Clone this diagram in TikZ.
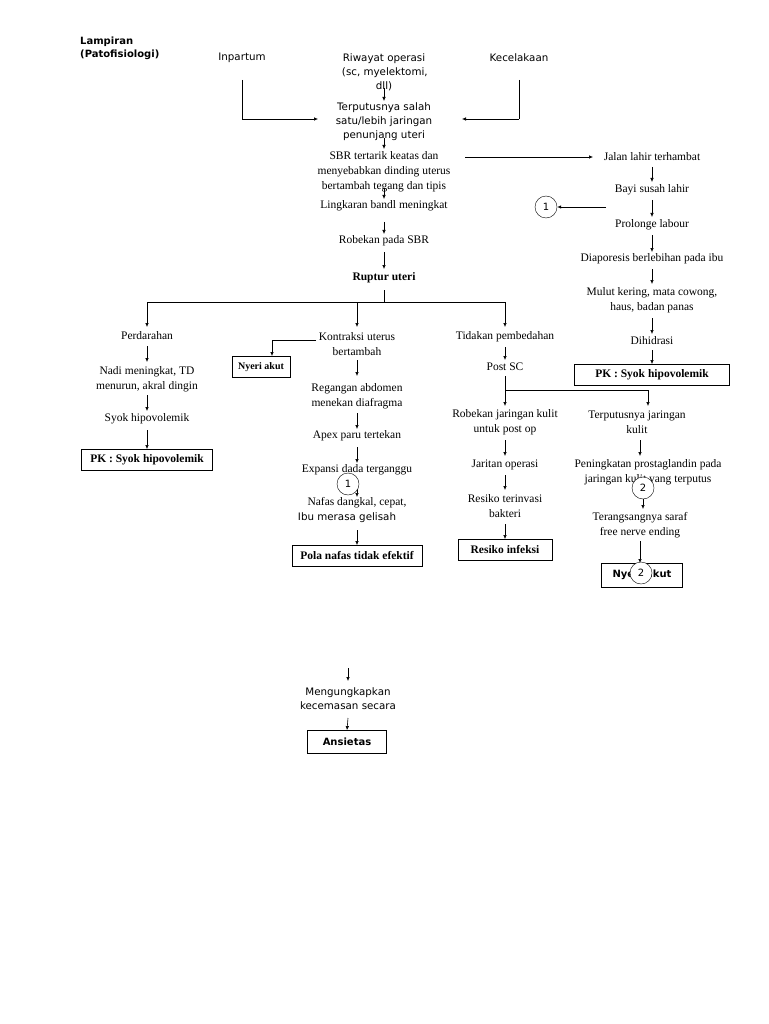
\documentclass[tikz,border=0pt]{standalone}
\usepackage{fontspec}
\setmainfont{Liberation Serif}
\newfontfamily\dv{DejaVu Sans}
\usetikzlibrary{arrows.meta}
\begin{document}
\begin{tikzpicture}[x=1pt,y=-1pt,
  sr/.style={font=\fontsize{11.5}{15}\selectfont,align=center,inner sep=0pt},
  ds/.style={font=\dv\fontsize{10.3}{14}\selectfont,align=center,inner sep=0pt},
  bx/.style={draw,thick,font=\bfseries\fontsize{11.5}{12}\selectfont,inner sep=0pt,minimum height=21pt},
  ar/.style={-{Latex[length=4pt,width=3.5pt]},line width=0.6pt},
  ln/.style={line width=0.6pt},
  cir/.style={draw,circle,fill=white,minimum size=22pt,inner sep=0pt,font=\dv\fontsize{10}{10}\selectfont}]
\useasboundingbox (0,0) rectangle (768,1024);
\node[ds,font=\dv\bfseries\fontsize{10}{13}\selectfont,anchor=north west,align=left] (lamp) at (80,37) {Lampiran\\(Patofisiologi)};
\node[ds] (inp) at (242,58) {Inpartum};
\node[ds] (riw) at (384,72) {Riwayat operasi\\\,(sc, myelektomi,\\dll)};
\node[ds] (kec) at (519,58) {Kecelakaan};
\node[ds] (ter) at (384,122) {Terputusnya salah\\satu/lebih jaringan\\penunjang uteri};
\coordinate (i1) at (242,80); \coordinate (i2) at (242,119);
\coordinate (k1) at (519,80); \coordinate (k2) at (519,119);
\draw[ln] (i1) -- (i2); \draw[ar] (i2) -- (318,119);
\draw[ln] (k1) -- (k2); \draw[ar] (k2) -- (462,119);
\draw[ar] (384,88) -- (384,101);
\node[sr] (sbr) at (384,172) {SBR tertarik keatas dan\\menyebabkan dinding uterus\\bertambah tegang dan tipis};
\draw[ar] (384,138) -- (384,149);
\node[sr] (ling) at (384,206) {Lingkaran bandl meningkat};
\draw[ar] (384,188) -- (384,199);
\node[sr] (rob) at (384,241) {Robekan pada SBR};
\draw[ar] (384,222) -- (384,234);
\node[sr,font=\bfseries\fontsize{11.5}{12}\selectfont] (rup) at (384,278) {Ruptur uteri};
\draw[ar] (384,252) -- (384,269);
% right column
\node[sr] (jal) at (652,157) {Jalan lahir terhambat};
\draw[ar] (465,157) -- (593,157);
\node[sr] (bayi) at (652,190) {Bayi susah lahir};
\draw[ar] (652,167) -- (652,182);
\node[cir] (c1a) at (546,207) {1};
\draw[ar] (606,207) -- (c1a.east);
\node[sr] (prol) at (652,225) {Prolonge labour};
\draw[ar] (652,200) -- (652,217);
\node[sr] (diap) at (652,259) {Diaporesis berlebihan pada ibu};
\draw[ar] (652,235) -- (652,252);
\node[sr] (mul) at (652,300) {Mulut kering, mata cowong,\\haus, badan panas};
\draw[ar] (652,269) -- (652,284);
\node[bx,minimum width=155pt] (pk2) at (652,375) {PK : Syok hipovolemik};
\node[sr] (dih) at (652,341) {Dihidrasi};
\draw[ar] (652,350) -- (pk2.north);
\draw[ar] (652,318) -- (652,334);
% split
\draw[ln] (384,290) -- (384,302);
\draw[ln] (147,302) -- (505,302);
\node[sr] (per) at (147,336) {Perdarahan};
\node[sr] (kon) at (357,344) {Kontraksi uterus\\bertambah};
\node[sr] (tid) at (505,337) {Tidakan pembedahan};
\draw[ar] (147,302) -- (147,327);
\draw[ar] (357,302) -- (357,327);
\draw[ar] (505,302) -- (505,327);
% col1
\node[sr] (nad) at (147,379) {Nadi meningkat, TD\\menurun, akral dingin};
\draw[ar] (147,346) -- (147,362);
\node[sr] (syok) at (147,419) {Syok hipovolemik};
\draw[ar] (147,395) -- (147,411);
\node[bx,minimum width=131pt] (pk1) at (147,460) {PK : Syok hipovolemik};
\draw[ar] (147,430) -- (pk1.north);
% col2
\node[bx,minimum width=58pt,font=\bfseries\fontsize{10}{12}\selectfont] (ny1) at (261,367) {Nyeri akut};
\draw[ln] (316,340) -- (272,340); \draw[ar] (272,340) -- (272,356);
\node[sr] (reg) at (357,396) {Regangan abdomen\\menekan diafragma};
\draw[ar] (357,360) -- (357,376);
\node[sr] (apex) at (357,436) {Apex paru tertekan};
\draw[ar] (357,413) -- (357,429);
\node[sr] (exp) at (357,470) {Expansi dada terganggu};
\draw[ar] (357,447) -- (357,463);
\node[sr] (naf) at (357,503) {Nafas dangkal, cepat,};
\node[ds] (ibu) at (347,518) {Ibu merasa gelisah};
\draw[ar] (357,480) -- (357,497);
\node[cir] (c1b) at (348,484) {1};
\node[bx,minimum width=130pt] (pola) at (357,556) {Pola nafas tidak efektif};
\draw[ar] (357,530) -- (pola.north);
% col3
\node[sr] (post) at (505,367) {Post SC};
\draw[ar] (505,347) -- (505,360);
\draw[ln] (505,376) -- (505,390) -- (648,390);
\draw[ar] (505,390) -- (505,406);
\draw[ar] (648,390) -- (648,406);
\node[sr] (rjk) at (505,422) {Robekan jaringan kulit\\untuk post op};
\node[sr] (jar) at (505,465) {Jaritan operasi};
\draw[ar] (505,440) -- (505,456);
\node[sr] (res) at (505,506) {Resiko terinvasi\\bakteri};
\draw[ar] (505,475) -- (505,490);
\node[bx,minimum width=94pt] (inf) at (505,550) {Resiko infeksi};
\draw[ar] (505,524) -- (inf.north);
% col4
\node[sr] (tjk) at (637,422) {Terputusnya jaringan\\kulit};
\node[sr] (pen) at (648,472) {Peningkatan prostaglandin pada\\jaringan kulit yang terputus};
\draw[ar] (640,440) -- (640,456);
\node[sr] (trs) at (640,525) {Terangsangnya saraf\\free nerve ending};
\draw[ar] (643,488) -- (643,509);
\node[cir] (c2a) at (643,488) {2};
\node[bx,font=\dv\bfseries\fontsize{10}{12}\selectfont,minimum width=81pt,minimum height=24pt] (ny2) at (642,575) {Nyeri akut};
\draw[ar] (640,541) -- (640,563);
\node[cir] (c2b) at (641,573) {2};
% bottom
\node[ds] (men) at (348,699) {Mengungkapkan\\kecemasan secara};
\draw[ar] (348,668) -- (348,681);
\node[bx,font=\dv\bfseries\fontsize{10}{12}\selectfont,minimum width=79pt,minimum height=23pt] (ans) at (347,742) {Ansietas};
\draw[ar] (348,718) -- (ans.north);
\end{tikzpicture}
\end{document}
